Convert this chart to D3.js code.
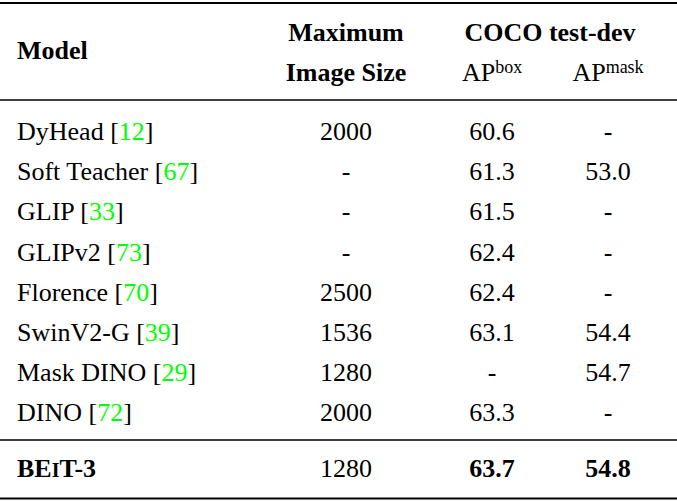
<!DOCTYPE html><html><head><meta charset="utf-8">
<script src="https://cdn.jsdelivr.net/npm/d3@7"></script>
<style>body{margin:0;background:#fff} text{font-family:'Liberation Serif','Times New Roman',serif}</style></head><body><svg id="c" width="677" height="502"></svg>
<script>
const models=["DyHead","Soft Teacher","GLIP","GLIPv2","Florence","SwinV2-G","Mask DINO","DINO"];
const refs=["12","67","33","73","70","39","29","72"];
const imageSize=["2000","-","-","-","2500","1536","1280","2000"];
const apBox=["60.6","61.3","61.5","62.4","62.4","63.1","-","63.3"];
const apMask=["-","53.0","-","-","-","54.4","54.7","-"];
const ours={model:"BEiT-3",size:"1280",box:"63.7",mask:"54.8"};
const svg=d3.select("#c"),fs=26;
const y=d3.scalePoint().domain(d3.range(models.length)).range([131,412]);
const cx={size:346,box:492,mask:608};
function t(x,yy,s,anchor,bold){return svg.append("text").attr("x",x).attr("y",yy).attr("dy","0.35em").attr("font-size",fs).attr("text-anchor",anchor).attr("font-weight",bold?"bold":"normal").text(s);}
[[3,2.2],[100,1.3],[440,1.3],[498.5,2.2]].forEach(([yy,w])=>svg.append("line").attr("x1",0).attr("x2",677).attr("y1",yy).attr("y2",yy).attr("stroke","#000").attr("stroke-width",w));
t(17,50,"Model","start",true);
t(cx.size,32,"Maximum","middle",true);
t(cx.size,72,"Image Size","middle",true);
t(550,32,"COCO test-dev","middle",true);
const h1=t(cx.box,72,"AP","middle");h1.append("tspan").attr("font-size",18).attr("dy","-0.45em").text("box");
const h2=t(cx.mask,72,"AP","middle");h2.append("tspan").attr("font-size",18).attr("dy","-0.45em").text("mask");
models.forEach((m,i)=>{
  const e=t(17,y(i),m+" [","start");e.append("tspan").attr("fill","#00ff00").text(refs[i]);e.append("tspan").text("]");
  t(cx.size,y(i),imageSize[i],"middle");t(cx.box,y(i),apBox[i],"middle");t(cx.mask,y(i),apMask[i],"middle");
});
const yb=468;
const b=t(17,yb,"BE","start",true);b.append("tspan").attr("font-size",20).text("I");b.append("tspan").text("T-3");
t(cx.size,yb,ours.size,"middle");t(cx.box,yb,ours.box,"middle",true);t(cx.mask,yb,ours.mask,"middle",true);
</script></body></html>
